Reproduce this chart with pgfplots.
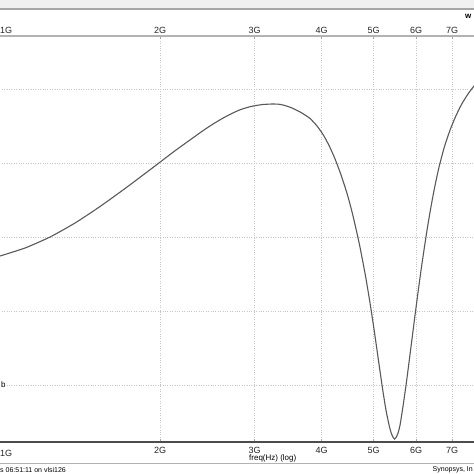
\documentclass[border=0pt]{standalone}
\usepackage{pgfplots}
\pgfplotsset{compat=1.18}
\usepackage{fontspec}
\setmainfont{Liberation Sans}
\pgfplotstableread{
f y
1.0064e9 -2.568
1.1207e9 -1.486
1.2476e9 0
1.3888e9 1.892
1.5461e9 4.122
1.7211e9 6.554
1.9160e9 9.088
2.1330e9 11.655
2.3745e9 14.088
2.4786e9 15.014
2.5872e9 15.838
2.6662e9 16.365
2.7356e9 16.770
2.8191e9 17.189
2.9429e9 17.608
3.0985e9 17.892
3.2487e9 17.973
3.3478e9 17.919
3.4498e9 17.676
3.5397e9 17.365
3.6469e9 16.892
3.7260e9 16.486
3.8069e9 16.014
3.9223e9 15.0
4.0245e9 13.851
4.1295e9 12.365
4.2374e9 10.541
4.3479e9 8.378
4.4612e9 5.878
4.5578e9 3.378
4.6567e9 0.473
4.7171e9 -1.419
4.8193e9 -4.932
4.8818e9 -7.297
4.9449e9 -9.797
5.0090e9 -12.500
5.0739e9 -15.338
5.1396e9 -18.176
5.2061e9 -20.946
5.2737e9 -23.446
5.3420e9 -25.405
5.3880e9 -26.419
5.4345e9 -27.068
5.4694e9 -27.297
5.5048e9 -27.095
5.5524e9 -26.486
5.6003e9 -25.405
5.6728e9 -22.838
5.7464e9 -20.0
5.8208e9 -16.892
5.8962e9 -13.716
5.9726e9 -10.541
6.0500e9 -7.432
6.1284e9 -4.459
6.2077e9 -1.689
6.2881e9 0.946
6.3696e9 3.378
6.4521e9 5.608
6.5356e9 7.635
6.6202e9 9.459
6.7638e9 12.027
6.9406e9 14.459
7.1215e9 16.419
7.3071e9 18.041
7.4975e9 19.324
7.6273e9 20.068
7.7591e9 20.743
}\magdata
\begin{document}
\begin{tikzpicture}[x=1pt,y=1pt]
\useasboundingbox (0,0) rectangle (474,474);
\clip (0,0) rectangle (474,474);
\fill[white] (0,0) rectangle (474,474);
\fill[gray!12] (0,466) rectangle (474,474);
\draw[gray!70, line width=1.2pt] (-5,465) -- (480,465);
\draw[gray!60, line width=1pt] (-5,10) -- (480,10);
\begin{axis}[
  at={(-3pt,32pt)}, anchor=south west,
  scale only axis, width=480pt, height=406pt,
  xmode=log, xmin=0.99386e9, xmax=7.793e9,
  ymin=-27.7, ymax=27.16,
  xtick={1e9,2e9,3e9,4e9,5e9,6e9,7e9},
  xticklabels={,2G,3G,4G,5G,6G,7G},
  minor xtick={}, ytick={-20,-10,0,10,20}, yticklabels={},
  major tick length=3pt,
  tick style={gray!70, line width=0.6pt},
  grid=major,
  major grid style={gray!45, dotted, line width=0.7pt},
  axis line style={gray!60!black, line width=1.2pt},
  tick label style={font=\fontsize{9}{10}\selectfont, text=black!85},
  xticklabel style={yshift=-2pt},
  clip=true,
]
\addplot[black!65, line width=1.1pt, smooth, tension=0.35] table[x=f, y=y] {\magdata};
\end{axis}
\begin{axis}[
  at={(-3pt,32pt)}, anchor=south west,
  scale only axis, width=480pt, height=406pt,
  xmode=log, xmin=0.99386e9, xmax=7.793e9,
  ymin=-27.7, ymax=27.16,
  axis x line*=top, axis y line=none,
  xtick={1e9,2e9,3e9,4e9,5e9,6e9,7e9},
  xticklabels={,2G,3G,4G,5G,6G,7G},
  minor xtick={},
  major tick length=0pt,
  axis line style={gray!60, line width=1.2pt},
  tick label style={font=\fontsize{9}{10}\selectfont, text=black!85},
  xticklabel style={yshift=-1pt},
]
\end{axis}
\node[anchor=west, inner sep=0pt, font=\fontsize{9}{10}\selectfont, text=black!85] at (0,444) {1G};
\node[anchor=west, inner sep=0pt, font=\fontsize{9}{10}\selectfont, text=black!85] at (0,21) {1G};
\node[anchor=north west, inner sep=0pt, font=\fontsize{8}{9}\selectfont] at (249,19.5) {freq(Hz) (log)};
\node[anchor=west, inner sep=0pt, font=\bfseries\fontsize{8}{9}\selectfont] at (465,458) {w};
\node[anchor=west, inner sep=0pt, font=\fontsize{8}{9}\selectfont] at (1,89) {b};
\node[anchor=west, inner sep=0pt, font=\fontsize{7}{8}\selectfont] at (0,4) {s 06:51:11 on vlsi126};
\node[anchor=east, inner sep=0pt, font=\fontsize{7}{8}\selectfont] at (473,4) {Synopsys, In};
\end{tikzpicture}
\end{document}
